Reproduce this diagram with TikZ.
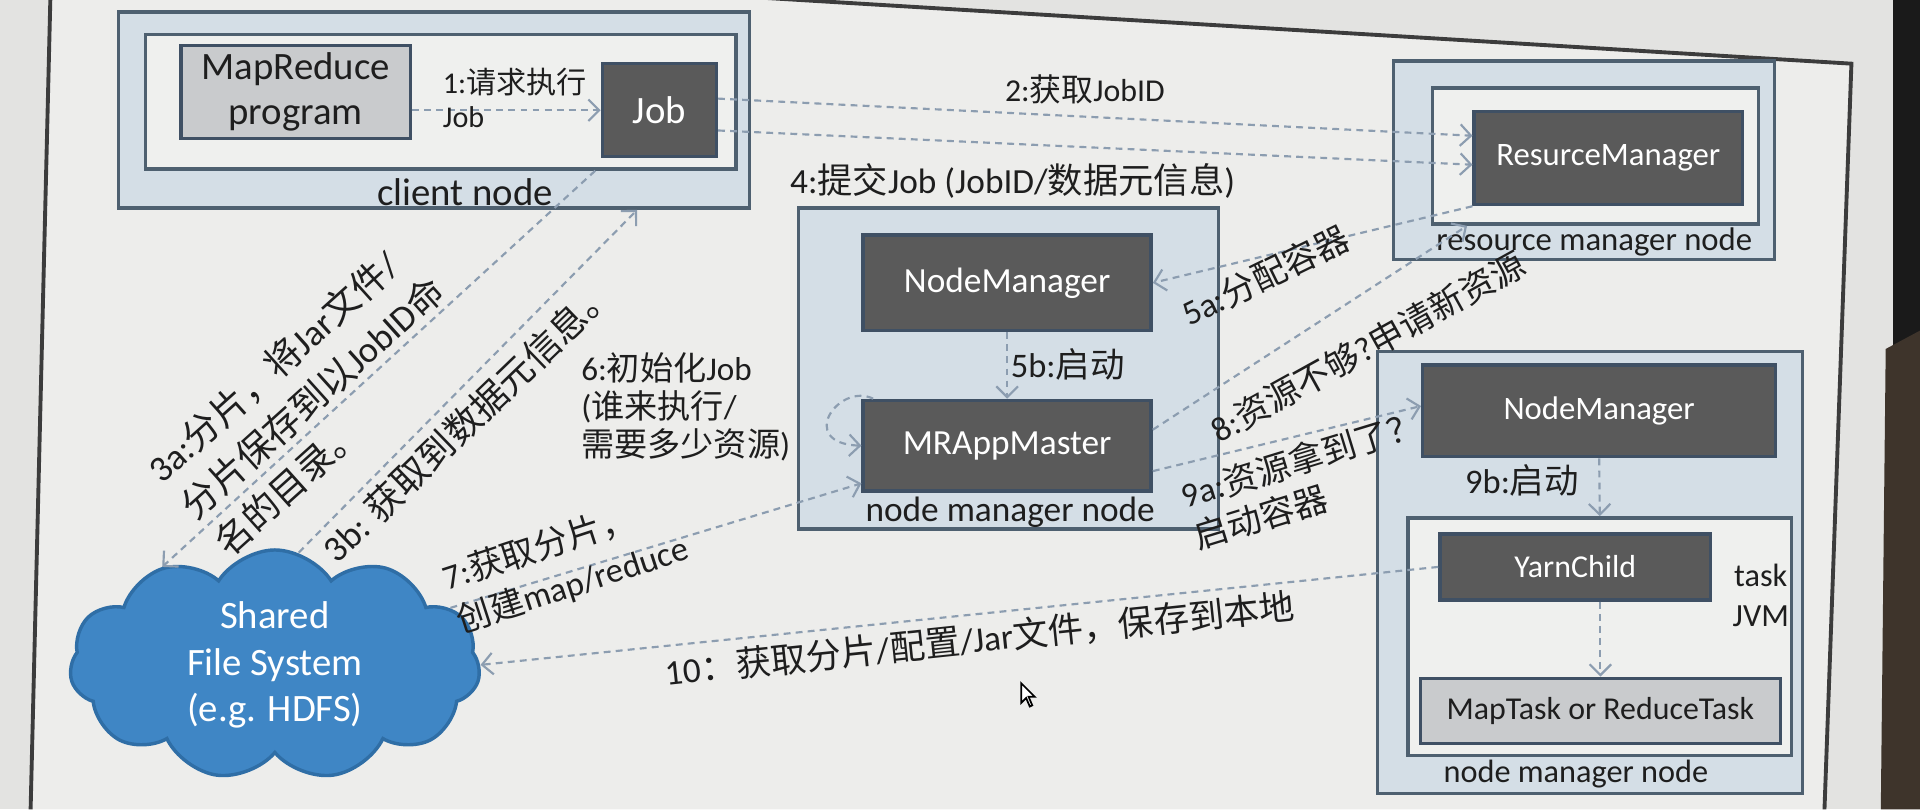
\documentclass[tikz,border=0pt]{standalone}
\usepackage{fontspec}
\setmainfont{Carlito}
\newfontfamily\zhfont{Noto Sans CJK SC}
\newcommand\zh[1]{{\zhfont#1}}
\usetikzlibrary{calc,shapes.symbols,arrows.meta}

\definecolor{screenbg}{HTML}{E3E3E1}
\definecolor{slidebg}{HTML}{EDEDEB}
\definecolor{framec}{HTML}{3C3C3C}
\definecolor{bezel}{HTML}{1A1A1A}
\definecolor{sleeve}{HTML}{3E342B}
\definecolor{nodefill}{HTML}{D4DEE6}
\definecolor{innerfill}{HTML}{EFF0EE}
\definecolor{boxline}{HTML}{4E6070}
\definecolor{darkline}{HTML}{3F5064}
\definecolor{darkfill}{HTML}{5A5A5A}
\definecolor{greyfill}{HTML}{C9CBCD}
\definecolor{cloudfill}{HTML}{3F86C5}
\definecolor{cloudline}{HTML}{2F6EA6}
\definecolor{flowc}{HTML}{8C9DB0}
\definecolor{ink}{HTML}{1E1E1E}

\tikzset{
  nodebox/.style={draw=boxline, fill=nodefill, line width=0.8pt, inner sep=0pt},
  innerbox/.style={draw=boxline, fill=innerfill, line width=0.8pt, inner sep=0pt},
  darkbox/.style={draw=darkline, fill=darkfill, line width=0.8pt, inner sep=0pt, text=white},
  greybox/.style={draw=darkline, fill=greyfill, line width=0.8pt, inner sep=0pt, text=ink},
  flow/.style={draw=flowc, line width=0.5pt, dash pattern=on 1.6pt off 1.2pt,
    -{Straight Barb[length=2.5pt,width=5pt]}},
  lbl/.style={inner sep=0pt, text=ink, font=\fontsize{8}{9.5}\selectfont},
}

\begin{document}
\begin{tikzpicture}[x=0.01cm, y=-0.01cm]
    \useasboundingbox (0,0) rectangle (1568,661);
    \clip (0,0) rectangle (1568,661);

    % screen and slide
    \fill[screenbg] (0,0) rectangle (1568,661);
    \fill[slidebg] (42,-37) -- (1512,52) -- (1490,661) -- (25,661) -- cycle;
    \draw[framec, line width=0.9pt] (25,661) -- (42,-37) -- (1512,52) -- (1490,661);
    \fill[bezel] (1546,0) rectangle (1568,300);
    \fill[sleeve] (1540,285) -- (1568,270) -- (1568,661) -- (1536,661) -- cycle;

    % client node
    \node[nodebox, minimum width=5.15cm, minimum height=1.60cm] (cn) at (354.5,90) {};
    \node[innerbox, minimum width=4.82cm, minimum height=1.10cm] (ci) at (360,83) {};
    \node[greybox, minimum width=1.87cm, minimum height=0.76cm, align=center,
      font=\fontsize{9}{10.5}\selectfont] (mr) at (241.5,75) {MapReduce\\program};
    \node[darkbox, minimum width=0.93cm, minimum height=0.76cm,
      font=\fontsize{9}{10.5}\selectfont] (job) at (538.5,90) {Job};
    \node[lbl, font=\fontsize{9}{10.5}\selectfont] (cnl) at (380,157) {client node};

    % resource manager node
    \node[nodebox, minimum width=3.11cm, minimum height=1.62cm] (rmn) at (1293.5,131) {};
    \node[innerbox, minimum width=2.66cm, minimum height=1.11cm] (rmi) at (1303,127.5) {};
    \node[darkbox, minimum width=2.19cm, minimum height=0.76cm,
      font=\fontsize{7.6}{9}\selectfont] (rm) at (1313.5,129) {ResurceManager};
    \node[lbl, font=\fontsize{7.6}{9}\selectfont] (rmnl) at (1302,198) {resource manager node};

    % node manager node (MRAppMaster)
    \node[nodebox, minimum width=3.43cm, minimum height=2.62cm] (nmn) at (823.5,301) {};
    \node[darkbox, minimum width=2.35cm, minimum height=0.78cm,
      font=\fontsize{8.2}{9.5}\selectfont] (nm) at (822.5,231) {NodeManager};
    \node[darkbox, minimum width=2.35cm, minimum height=0.74cm,
      font=\fontsize{8.2}{9.5}\selectfont] (am) at (822.5,364) {MRAppMaster};
    \node[lbl, font=\fontsize{8.2}{9.5}\selectfont] (nmnl) at (825,418) {node manager node};

    % node manager node (YarnChild)
    \node[nodebox, minimum width=3.47cm, minimum height=3.61cm] (nmb) at (1298.5,467.5) {};
    \node[darkbox, minimum width=2.88cm, minimum height=0.75cm,
      font=\fontsize{7.6}{9}\selectfont] (nmc) at (1306,335.5) {NodeManager};
    \node[innerbox, minimum width=3.13cm, minimum height=1.94cm] (tj) at (1306.5,520) {};
    \node[darkbox, minimum width=2.21cm, minimum height=0.54cm,
      font=\fontsize{7.4}{9}\selectfont] (yc) at (1286.5,463) {YarnChild};
    \node[greybox, minimum width=2.94cm, minimum height=0.53cm,
      font=\fontsize{7.4}{9}\selectfont] (mt) at (1307,580.5) {MapTask or ReduceTask};
    \node[lbl, font=\fontsize{7.5}{9}\selectfont] (tk) at (1438,470) {task};
    \node[lbl, font=\fontsize{7.5}{9}\selectfont] (jvm) at (1438,503) {JVM};
    \node[lbl, font=\fontsize{7.5}{9}\selectfont] (nmbl) at (1287,632) {node manager node};

    % shared file system
    \node[cloud, cloud puffs=11, cloud puff arc=115, aspect=2.1, draw=cloudline, fill=cloudfill,
      line width=0.8pt, minimum width=3.35cm, minimum height=1.62cm, inner sep=0pt,
      text=white, align=center, font=\fontsize{9}{10.8}\selectfont]
      (fs) at (224.5,543) {Shared\\File System\\(e.g. HDFS)};

    % connectors
    \draw[flow] (mr.east |- job.west) -- (job.west);
    \draw[flow] ($(job.north east)!0.38!(job.south east)$) -- ($(rm.north west)!0.27!(rm.south west)$);
    \draw[flow] ($(job.north east)!0.71!(job.south east)$) -- ($(rm.north west)!0.57!(rm.south west)$);
    \draw[flow] ($(ci.south west)!0.76!(ci.south east)$) -- (fs.139);
    \draw[flow] (fs.78) -- ($(cn.south west)!0.82!(cn.south east)$);
    \draw[flow] (rm.south west) -- (nm.east);
    \draw[flow] (nm.south) -- (am.north);
    \draw[flow] ($(am.north west)!0.04!(am.north east)$) .. controls (685,312) and (650,362) .. (am.west);
    \draw[flow] (fs.18) -- ($(am.south west)!0.1!(am.north west)$);
    \draw[flow] ($(am.north east)!0.33!(am.south east)$) -- ($(rmi.south west)!0.11!(rmi.south east)$);
    \draw[flow] ($(am.north east)!0.77!(am.south east)$) -- ($(nmc.north west)!0.45!(nmc.south west)$);
    \draw[flow] (nmc.south) -- (tj.north);
    \draw[flow] (yc.south -| mt.north) -- (mt.north);
    \draw[flow] (yc.west) -- (fs.east);

    % add labels
    \node[lbl, align=left, anchor=west, font=\fontsize{7}{7.9}\selectfont] (t1) at (361,80) {1:\zh{请求执行}\\Job};
    \node[lbl, font=\fontsize{7.4}{9}\selectfont] (t2) at (886,73) {2:\zh{获取}JobID};
    \node[lbl, font=\fontsize{8.2}{9.5}\selectfont] (t4) at (827,148) {4:\zh{提交}Job (JobID/\zh{数据元信息})};
    \node[lbl, align=left, rotate=42, font=\fontsize{8.5}{11.5}\selectfont] (t3a) at (255,325)
      {3a:\zh{分片，将}Jar\zh{文件}/\\\zh{分片保存到以}JobID\zh{命}\\\zh{名的目录。}};
    \node[lbl, rotate=44, font=\fontsize{8.5}{10}\selectfont] (t3b) at (382,343) {3b: \zh{获取到数据元信息。}};
    \node[lbl, rotate=26] (t5a) at (1033,225) {5a:\zh{分配容器}};
    \node[lbl] (t5b) at (872,298) {5b:\zh{启动}};
    \node[lbl, align=left, anchor=west, font=\fontsize{7.7}{8.8}\selectfont] (t6) at (474,332)
      {6:\zh{初始化}Job\\(\zh{谁来执行}/\\\zh{需要多少资源})};
    \node[lbl, align=left, rotate=18, font=\fontsize{8}{10.5}\selectfont] (t7) at (462,460)
      {7:\zh{获取分片，}\\\zh{创建}map/reduce};
    \node[lbl, rotate=29] (t8) at (1117,283) {8:\zh{资源不够}?\zh{申请新资源}};
    \node[lbl, align=left, rotate=17, font=\fontsize{8}{10}\selectfont] (t9a) at (1068,392)
      {9a:\zh{资源拿到了？}\\\zh{启动容器}};
    \node[lbl] (t9b) at (1243,392) {9b:\zh{启动}};
    \node[lbl, rotate=6, font=\fontsize{8.2}{9.5}\selectfont] (t10) at (800,522)
      {10\zh{：获取分片}/\zh{配置}/Jar\zh{文件，保存到本地}};

    % mouse pointer
    \draw[black, fill=white, line width=0.4pt] (834,558) -- (834,574) -- (838,570) -- (841,577)
      -- (843,576) -- (840,569) -- (845,569) -- cycle;
\end{tikzpicture}
\end{document}
